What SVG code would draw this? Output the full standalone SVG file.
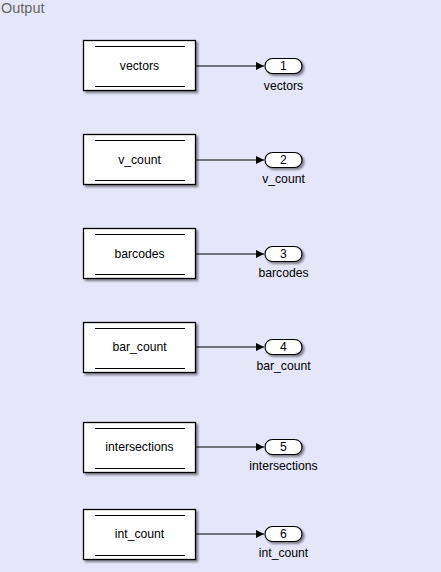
<svg xmlns="http://www.w3.org/2000/svg" width="441" height="572" viewBox="0 0 441 572">
<defs>
<style>
.blk{fill:#fff;stroke:#000;stroke-width:1.3}
.bar{stroke:#000;stroke-width:1.2}
.port{fill:#fff;stroke:#000;stroke-width:1.2}
.lbl{font-family:"Liberation Sans",Arial,sans-serif;font-size:12.2px;fill:#000;text-anchor:middle}
.wire{stroke:#000;stroke-width:1;fill:none;marker-end:url(#ah)}
.title{font-family:"Liberation Sans",Arial,sans-serif;font-size:14.5px;fill:#666}
</style>
<filter id="sh" x="-10%" y="-10%" width="130%" height="140%">
<feDropShadow dx="2" dy="2" stdDeviation="1" flood-color="#000" flood-opacity="0.45"/>
</filter>
<marker id="ah" markerWidth="9" markerHeight="8" refX="8" refY="4" orient="auto" markerUnits="userSpaceOnUse">
<path d="M0,0 L8,4 L0,8 Z" fill="#000"/>
</marker>
</defs>
<rect width="441" height="572" fill="#e6e6fa"/>
<text class="title" x="1" y="12.5">Output</text>

<g id="connectors">
<line class="wire" x1="196" y1="66" x2="264" y2="66"/>
<line class="wire" x1="196" y1="160" x2="264" y2="160"/>
<line class="wire" x1="196" y1="254" x2="264" y2="254"/>
<line class="wire" x1="196" y1="347" x2="264" y2="347"/>
<line class="wire" x1="196" y1="447" x2="264" y2="447"/>
<line class="wire" x1="196" y1="534" x2="264" y2="534"/>
</g>

<g id="blk_vectors">
<rect class="blk" x="83.5" y="40.5" width="112" height="50" filter="url(#sh)"/>
<line class="bar" x1="95" y1="46.5" x2="185" y2="46.5"/>
<line class="bar" x1="95" y1="86.5" x2="185" y2="86.5"/>
<text class="lbl" x="139.5" y="70">vectors</text>
</g>
<g id="out_vectors">
<rect class="port" x="265" y="58.5" width="37" height="15" rx="7.5" filter="url(#sh)"/>
<text class="lbl" x="283.5" y="70">1</text>
<text class="lbl" x="283.5" y="90">vectors</text>
</g>

<g id="blk_v_count">
<rect class="blk" x="83.5" y="134.5" width="112" height="50" filter="url(#sh)"/>
<line class="bar" x1="95" y1="140.5" x2="185" y2="140.5"/>
<line class="bar" x1="95" y1="180.5" x2="185" y2="180.5"/>
<text class="lbl" x="139.5" y="164">v_count</text>
</g>
<g id="out_v_count">
<rect class="port" x="265" y="152.5" width="37" height="15" rx="7.5" filter="url(#sh)"/>
<text class="lbl" x="283.5" y="164">2</text>
<text class="lbl" x="283.5" y="183">v_count</text>
</g>

<g id="blk_barcodes">
<rect class="blk" x="83.5" y="228.5" width="112" height="50" filter="url(#sh)"/>
<line class="bar" x1="95" y1="234.5" x2="185" y2="234.5"/>
<line class="bar" x1="95" y1="274.5" x2="185" y2="274.5"/>
<text class="lbl" x="139.5" y="258">barcodes</text>
</g>
<g id="out_barcodes">
<rect class="port" x="265" y="246.5" width="37" height="15" rx="7.5" filter="url(#sh)"/>
<text class="lbl" x="283.5" y="258">3</text>
<text class="lbl" x="283.5" y="277">barcodes</text>
</g>

<g id="blk_bar_count">
<rect class="blk" x="83.5" y="322.5" width="112" height="50" filter="url(#sh)"/>
<line class="bar" x1="95" y1="328.5" x2="185" y2="328.5"/>
<line class="bar" x1="95" y1="368.5" x2="185" y2="368.5"/>
<text class="lbl" x="139.5" y="351">bar_count</text>
</g>
<g id="out_bar_count">
<rect class="port" x="265" y="339.5" width="37" height="15" rx="7.5" filter="url(#sh)"/>
<text class="lbl" x="283.5" y="351">4</text>
<text class="lbl" x="283.5" y="370">bar_count</text>
</g>

<g id="blk_intersections">
<rect class="blk" x="83.5" y="422.5" width="112" height="50" filter="url(#sh)"/>
<line class="bar" x1="95" y1="428.5" x2="185" y2="428.5"/>
<line class="bar" x1="95" y1="468.5" x2="185" y2="468.5"/>
<text class="lbl" x="139.5" y="451">intersections</text>
</g>
<g id="out_intersections">
<rect class="port" x="265" y="439.5" width="37" height="15" rx="7.5" filter="url(#sh)"/>
<text class="lbl" x="283.5" y="451">5</text>
<text class="lbl" x="283.5" y="470">intersections</text>
</g>

<g id="blk_int_count">
<rect class="blk" x="83.5" y="509.5" width="112" height="50" filter="url(#sh)"/>
<line class="bar" x1="95" y1="515.5" x2="185" y2="515.5"/>
<line class="bar" x1="95" y1="555.5" x2="185" y2="555.5"/>
<text class="lbl" x="139.5" y="538">int_count</text>
</g>
<g id="out_int_count">
<rect class="port" x="265" y="526.5" width="37" height="15" rx="7.5" filter="url(#sh)"/>
<text class="lbl" x="283.5" y="538">6</text>
<text class="lbl" x="283.5" y="557">int_count</text>
</g>
</svg>
